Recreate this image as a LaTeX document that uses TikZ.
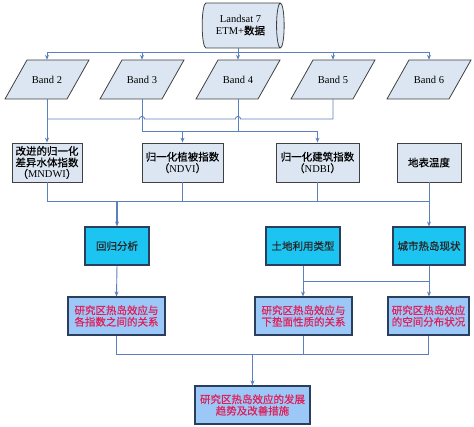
\documentclass[tikz,border=0pt]{standalone}
\usepackage{fontspec}
\setmainfont{Liberation Serif}
\newfontfamily\cjk[FakeBold=0.6]{Noto Sans CJK SC}
\usetikzlibrary{shapes.geometric,arrows.meta,calc,backgrounds}
\definecolor{linkc}{HTML}{5B80BE}
\definecolor{boxg}{HTML}{DCE6F2}
\definecolor{cyanb}{HTML}{1CC4F2}
\definecolor{lblue}{HTML}{9CC8F8}
\definecolor{redt}{HTML}{E0205A}
\definecolor{navyb}{HTML}{2A3F5E}
\newcommand{\fsz}{\fontsize{10.5}{11.5}\selectfont}
\tikzset{
  link/.style={draw=linkc, line width=0.9pt},
  arr/.style={link, -{Stealth[length=5pt,width=4pt]}},
  thickarr/.style={arr, line width=1.4pt},
  bandnode/.style={minimum width=40pt, minimum height=39pt, inner sep=0pt, font=\fsz},
  bandshape/.style={draw=black!75, fill=boxg, line width=0.8pt},
  gbox/.style={draw=black!75, fill=boxg, line width=0.8pt, inner sep=1pt, align=center, font=\fsz, minimum height=39pt},
  cbox/.style={draw=navyb, fill=cyanb, line width=1.1pt, inner sep=1pt, align=center, font=\fsz\cjk, text=black!85, minimum height=38pt},
  pbox/.style={draw=navyb, fill=lblue, line width=1.1pt, inner sep=1pt, align=center, font=\fsz\cjk, text=redt, minimum height=38pt}
}
\begin{document}
\begin{tikzpicture}[x=1pt,y=-1pt]
\useasboundingbox (0,0) rectangle (474,427);
% source
\node[cylinder, draw=black!75, fill=boxg, line width=0.8pt, aspect=0.35,
      minimum width=45pt, minimum height=82pt, inner sep=1pt, align=center, font=\fsz]
      (cyl) at (240.5,25.5) {Landsat 7\\ETM+{\cjk 数据}};
% bands
\node[bandnode] (b2) at (47,79.5) {Band 2};
\node[bandnode] (b3) at (142,79.5) {Band 3};
\node[bandnode] (b4) at (238,79.5) {Band 4};
\node[bandnode] (b5) at (333,79.5) {Band 5};
\node[bandnode] (b6) at (429,79.5) {Band 6};
\begin{pgfonlayer}{background}
\foreach \n in {b2,b3,b4,b5,b6}{
  \draw[bandshape] ($(\n.center)+(-20,-19.5)$) -- ($(\n.center)+(42,-19.5)$)
     -- ($(\n.center)+(20,19.5)$) -- ($(\n.center)+(-42,19.5)$) -- cycle;
}
\end{pgfonlayer}
% indices
\node[gbox, minimum width=70pt] (m1) at (47,162.5) {\cjk 改进的归一化\\\cjk 差异水体指数\\{\cjk （}MNDWI{\cjk ）}};
\node[gbox, minimum width=81pt] (m2) at (182.5,162.5) {\cjk 归一化植被指数\\{\cjk （}NDVI{\cjk ）}};
\node[gbox, minimum width=83pt] (m3) at (317.5,162.5) {\cjk 归一化建筑指数\\{\cjk （}NDBI{\cjk ）}};
\node[gbox, minimum width=64pt] (m4) at (429,162.5) {\cjk 地表温度};
% analysis
\node[cbox, minimum width=64pt] (r1) at (117,246) {回归分析};
\node[cbox, minimum width=74pt] (r2) at (303,246) {土地利用类型};
\node[cbox, minimum width=72pt] (r3) at (429,246) {城市热岛现状};
% results
\node[pbox, minimum width=97pt] (p1) at (116.5,316) {研究区热岛效应与\\各指数之间的关系};
\node[pbox, minimum width=97pt] (p2) at (303.5,316) {研究区热岛效应与\\下垫面性质的关系};
\node[pbox, minimum width=81pt] (p3) at (428.5,316) {研究区热岛效应\\的空间分布状况};
\node[pbox, minimum width=115pt] (f) at (252.5,405) {研究区热岛效应的发展\\趋势及改善措施};
% bus coordinates
\coordinate (busT) at (0,52);
\coordinate (busA) at (0,119);
\coordinate (busB) at (0,131);
\coordinate (busC) at (0,201);
\coordinate (busD) at (0,281);
\coordinate (busE) at (0,354);
% top distribution
\draw[link] (cyl.south -| b4.north) -- (b4.north |- busT);
\draw[link] (b2.north |- busT) -- (b6.north |- busT);
\foreach \n in {b2,b3,b4,b5,b6}{
  \draw[arr] (\n.north |- busT) -- (\n.north);
}
% bands to indices (with line hops)
\draw[link] (b5.south) -- (b5.south |- busA)
  -- ($(b4.south |- busA)+(2.6,0)$) .. controls +(0,-3.4) and +(0,-3.4) .. ($(b4.south |- busA)+(-2.6,0)$)
  -- ($(b3.south |- busA)+(2.6,0)$) .. controls +(0,-3.4) and +(0,-3.4) .. ($(b3.south |- busA)+(-2.6,0)$)
  -- (b2.south |- busA);
\draw[arr] (b2.south) -- (m1.north);
\draw[link] (b3.south) -- (b3.south |- busB) -- (m3.north |- busB);
\draw[link] (b4.south) -- (b4.south |- busB);
\draw[arr] (m2.north |- busB) -- (m2.north);
\draw[arr] (m3.north |- busB) -- (m3.north);
% indices to analysis
\draw[link] (m1.south) -- (m1.south |- busC) -- (m4.south |- busC);
\draw[link] (m2.south) -- (m2.south |- busC);
\draw[link] (m3.south) -- (m3.south |- busC);
\draw[link] (m4.south) -- (m4.south |- busC);
\draw[thickarr] (r1.north |- busC) -- (r1.north);
\draw[arr] (r3.north |- busC) -- (r3.north);
% analysis to results
\draw[arr] (r1.south) -- (p1.north);
\draw[arr] (r2.south) -- (r2.south |- p2.north);
\draw[arr] (r3.south) -- (r3.south |- p3.north);
\draw[link] (r2.south |- busD) -- (r3.south |- busD);
% results to final
\draw[link] (p1.south) -- (p1.south |- busE) -- (p3.south |- busE);
\draw[link] (p2.south) -- (p2.south |- busE);
\draw[link] (p3.south) -- (p3.south |- busE);
\draw[thickarr] (f.north |- busE) -- (f.north);
\end{tikzpicture}
\end{document}
